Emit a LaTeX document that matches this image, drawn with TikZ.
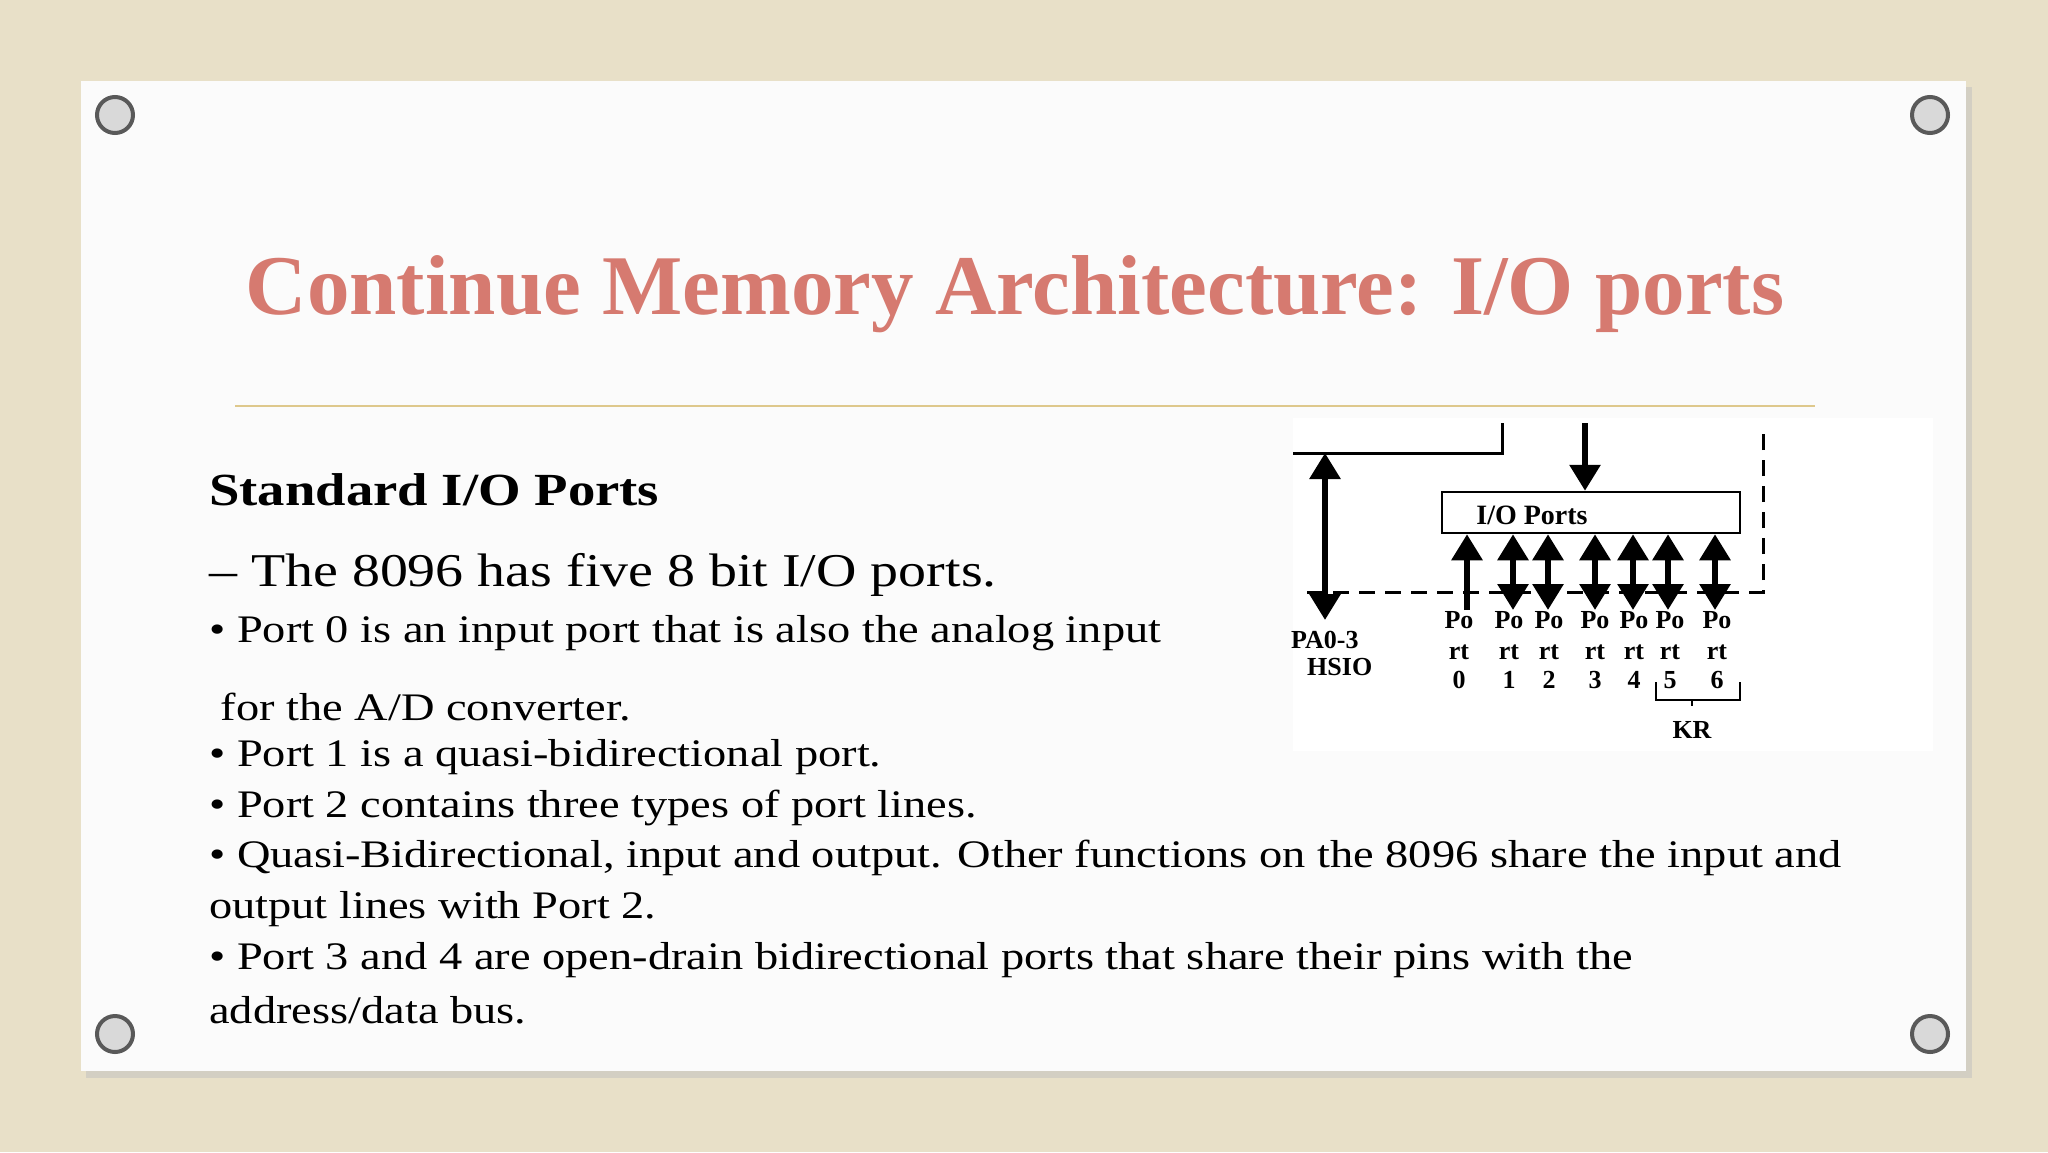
\documentclass[tikz,border=0pt]{standalone}
\usepackage{fontspec}
\setmainfont{Liberation Serif}
\newfontfamily\bodyf[FakeStretch=1.19]{Liberation Serif}
\usetikzlibrary{arrows.meta}
\definecolor{bgc}{RGB}{232,224,200}
\definecolor{titlec}{RGB}{214,122,112}
\definecolor{rulec}{RGB}{222,200,140}
\tikzset{
 body/.style={anchor=west,inner sep=0,font=\bodyf\fontsize{39}{40}\selectfont},
 dl/.style={font=\bfseries\fontsize{26}{26}\selectfont,inner sep=0},
 thk/.style={line width=6pt},
 dbl/.style={thk,{Triangle[length=26pt,width=30pt]}-{Triangle[length=26pt,width=30pt]}},
 upa/.style={thk,-{Triangle[length=26pt,width=30pt]}},
 screw/.style={circle,minimum size=36pt,draw=gray!70!black,line width=4pt,fill=gray!30,inner sep=0}
}
\begin{document}
\begin{tikzpicture}[x=1pt,y=-1pt]
\useasboundingbox (0,0) rectangle (2048,1152);
\fill[bgc] (0,0) rectangle (2048,1152);
\fill[black!25,opacity=0.5] (86,87) rectangle (1972,1078);
\fill[white!97!gray] (81,81) rectangle (1966,1071);
\foreach \n/\x/\y in {s1/115/115,s2/1930/115,s3/115/1034,s4/1930/1034}
  \node[screw] (\n) at (\x,\y) {};
\node[font=\bfseries\fontsize{85}{88}\selectfont,text=titlec,inner sep=0] (title) at (1015,294) {Continue Memory Architecture: I/O ports};
\draw[rulec,line width=1.5pt] (235,406) -- (1815,406);
\node[body,font=\bodyf\bfseries\fontsize{46}{46}\selectfont] (h) at (209,490) {Standard I/O Ports};
\node[body,font=\bodyf\fontsize{47}{50}\selectfont] (l1) at (209,575) {– The 8096 has five 8 bit I/O ports.};
\node[body] (l2) at (209,633) {• Port 0 is an input port that is also the analog input};
\node[body] (l3) at (209,707) { \ for the A/D converter.};
\node[body] (l4) at (209,757) {• Port 1 is a quasi-bidirectional port.};
\node[body] (l5) at (209,808) {• Port 2 contains three types of port lines.};
\node[body] (l6) at (209,858) {• Quasi-Bidirectional, input and output. Other functions on the 8096 share the input and};
\node[body] (l7) at (209,909) {output lines with Port 2.};
\node[body] (l8) at (209,960) {• Port 3 and 4 are open-drain bidirectional ports that share their pins with the};
\node[body] (l9) at (209,1010) {address/data bus.};
% diagram
\fill[white] (1293,418) rectangle (1933,751);
\draw[line width=3pt] (1293,453) -- (1502,453) -- (1502,423);
\draw[line width=3pt,dash pattern=on 16pt off 10pt] (1307,592) -- (1763,592) -- (1763,432);
\node[draw,line width=2.5pt,minimum width=298pt,minimum height=41pt,inner sep=0,fill=white] (io) at (1591,512.5) {};
\node[dl,font=\bfseries\fontsize{28}{28}\selectfont] (iol) at (1532,515) {I/O Ports};
\coordinate (topin) at (1585,423);
\draw[upa] (topin) -- (io.north -| topin);
\coordinate (pa) at (1325,453);
\coordinate (pab) at (1325,620);
\draw[dbl] (pa) -- (pab);
\node[dl,anchor=west] (pal) at (1291,640) {PA0-3};
\node[dl,anchor=west] (hs) at (1307,667) {HSIO};
\foreach \i/\x in {0/1459,1/1509,2/1549,3/1595,4/1634,5/1670,6/1717}{
  \coordinate (p\i) at (\x,610);
  \node[dl] (pa\i) at (\x,620) {Po};
  \node[dl] (pb\i) at (\x,652) {rt};
  \node[dl] (pc\i) at (\x,680) {\i};
}
\coordinate (p0) at (1467,610);
\draw[upa] (p0) -- (io.south -| p0);
\foreach \i/\x in {1/1513,2/1548,3/1595,4/1633,5/1668,6/1715} {\coordinate (q\i) at (\x,610); \draw[dbl] (q\i) -- (io.south -| q\i);}
\coordinate (k1) at (1656,682); \coordinate (k2) at (1740,682);
\coordinate (k3) at (1692,706);
\draw[line width=2pt] (k1) -- (1656,700) -- (1740,700) -- (k2);
\draw[line width=2pt] (1692,700) -- (k3);
\node[dl] (kr) at (1692,730) {KR};
\end{tikzpicture}
\end{document}
